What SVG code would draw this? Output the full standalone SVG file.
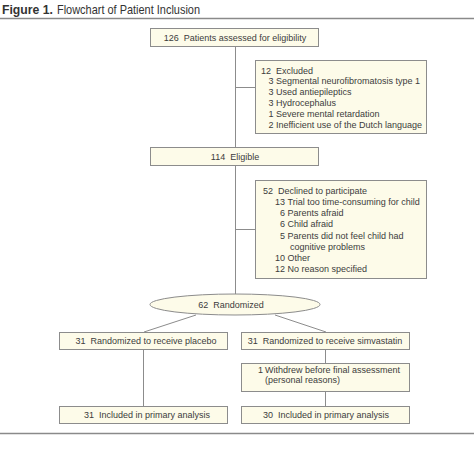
<svg xmlns="http://www.w3.org/2000/svg" width="474" height="452" viewBox="0 0 474 452">
<style>
.bg{fill:#ffffff}
.box{fill:#fdfbe9;stroke:#8c8c8c;stroke-width:1}
.ln{stroke:#8c8c8c;stroke-width:1;fill:none}
.rule{stroke:#8a8a8a;stroke-width:1.5}
text{font-family:"Liberation Sans",Arial,sans-serif;font-size:9px;fill:#3c3c3c;white-space:pre}
.c{text-anchor:middle}
.e{text-anchor:end}
.title{font-size:13px;fill:#333}
</style>
<rect class="bg" x="0" y="0" width="474" height="452"/>
<g id="title">
<text class="title" x="2" y="14" font-weight="bold" textLength="51" lengthAdjust="spacingAndGlyphs">Figure 1.</text>
<text class="title" x="57" y="14" textLength="143" lengthAdjust="spacingAndGlyphs">Flowchart of Patient Inclusion</text>
<line class="rule" x1="0" y1="18.5" x2="474" y2="18.5"/>
<line class="rule" x1="0" y1="433.5" x2="474" y2="433.5"/>
</g>
<g id="connectors">
<line class="ln" x1="235.5" y1="46" x2="235.5" y2="147"/>
<line class="ln" x1="235.5" y1="87.5" x2="255" y2="87.5"/>
<line class="ln" x1="235.5" y1="166" x2="235.5" y2="294"/>
<line class="ln" x1="235.5" y1="229.5" x2="255" y2="229.5"/>
<line class="ln" x1="196" y1="315" x2="144" y2="332"/>
<line class="ln" x1="275" y1="315" x2="326" y2="332"/>
<line class="ln" x1="143.5" y1="349" x2="143.5" y2="406"/>
<line class="ln" x1="325.5" y1="349" x2="325.5" y2="363"/>
<line class="ln" x1="325.5" y1="392" x2="325.5" y2="406"/>
</g>
<g id="assessed">
<rect class="box" x="150.5" y="28.5" width="168" height="18"/>
<text class="c" x="235" y="40.5">126  Patients assessed for eligibility</text>
</g>
<g id="excluded">
<rect class="box" x="255.5" y="60.5" width="171" height="73"/>
<text x="261" y="73.5">12  Excluded</text>
<text class="e" x="273.5" y="84.3">3</text><text x="276" y="84.3">Segmental neurofibromatosis type 1</text>
<text class="e" x="273.5" y="95.1">3</text><text x="276" y="95.1">Used antiepileptics</text>
<text class="e" x="273.5" y="105.9">3</text><text x="276" y="105.9">Hydrocephalus</text>
<text class="e" x="273.5" y="116.7">1</text><text x="276" y="116.7">Severe mental retardation</text>
<text class="e" x="273.5" y="127.5">2</text><text x="276" y="127.5">Inefficient use of the Dutch language</text>
</g>
<g id="eligible">
<rect class="box" x="150.5" y="147.5" width="168" height="18"/>
<text class="c" x="235" y="159.5">114  Eligible</text>
</g>
<g id="declined">
<rect class="box" x="255.5" y="180.5" width="171" height="98"/>
<text x="263" y="194">52  Declined to participate</text>
<text class="e" x="285" y="205">13</text><text x="287.5" y="205">Trial too time-consuming for child</text>
<text class="e" x="285" y="216">6</text><text x="287.5" y="216">Parents afraid</text>
<text class="e" x="285" y="227">6</text><text x="287.5" y="227">Child afraid</text>
<text class="e" x="285" y="239">5</text><text x="287.5" y="239">Parents did not feel child had</text>
<text x="290" y="250">cognitive problems</text>
<text class="e" x="285" y="261">10</text><text x="287.5" y="261">Other</text>
<text class="e" x="285" y="272">12</text><text x="287.5" y="272">No reason specified</text>
</g>
<g id="randomized">
<ellipse class="box" cx="235" cy="304.5" rx="85" ry="10.5"/>
<text class="c" x="231" y="308">62  Randomized</text>
</g>
<g id="placebo">
<rect class="box" x="59.5" y="332.5" width="168" height="17"/>
<text class="c" x="146" y="344">31  Randomized to receive placebo</text>
</g>
<g id="simvastatin">
<rect class="box" x="241.5" y="332.5" width="168" height="17"/>
<text class="c" x="325" y="344">31  Randomized to receive simvastatin</text>
</g>
<g id="withdrew">
<rect class="box" x="241.5" y="363.5" width="168" height="28"/>
<text x="258" y="372.5">1</text>
<text x="265" y="372.5">Withdrew before final assessment</text>
<text x="265" y="382.5">(personal reasons)</text>
</g>
<g id="included-placebo">
<rect class="box" x="59.5" y="406.5" width="168" height="17"/>
<text class="c" x="147" y="418">31  Included in primary analysis</text>
</g>
<g id="included-simvastatin">
<rect class="box" x="241.5" y="406.5" width="168" height="17"/>
<text class="c" x="326" y="418">30  Included in primary analysis</text>
</g>
</svg>
